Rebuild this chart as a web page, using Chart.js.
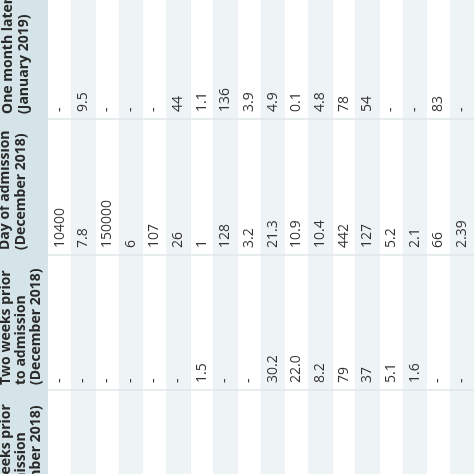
<!DOCTYPE html>
<html lang="en">
<head>
    <meta charset="UTF-8">
    <title>Lab values table</title>
    <style>
        html, body { margin: 0; padding: 0; background: #fff; }
    </style>
</head>
<body>
    <canvas id="myChart" width="474" height="474"></canvas>

    <script src="https://cdn.jsdelivr.net/npm/chart.js"></script>
    <script>
        // table rows (drawn as columns, the table is rotated)
        const rows = ['1', '2', '3', '4', '5', '6', '7', '8', '9', '10', '11', '12', '13', '14', '15', '16', '17', '18'];

        // one band per time point, top to bottom
        const oneMonthLater = ['-', '9.5', '-', '-', '-', '44', '1.1', '136', '3.9', '4.9', '0.1', '4.8', '78', '54', '-', '-', '83', '-'];
        const dayOfAdmission = ['10400', '7.8', '150000', '6', '107', '26', '1', '128', '3.2', '21.3', '10.9', '10.4', '442', '127', '5.2', '2.1', '66', '2.39'];
        const twoWeeksPrior = ['-', '-', '-', '-', '-', '-', '1.5', '-', '-', '30.2', '22.0', '8.2', '79', '37', '5.1', '1.6', '-', '-'];
        const fourWeeksPrior = ['', '', '', '', '', '', '', '', '', '', '', '', '', '', '', '', '', ''];

        const headers = [
            ['One month later', '(January 2019)'],
            ['Day of admission', '(December 2018)'],
            ['Two weeks prior', 'to admission', '(December 2018)'],
            ['Four weeks prior', 'to admission', '(December 2018)']
        ];
        const bands = [oneMonthLater, dayOfAdmission, twoWeeksPrior, fourWeeksPrior];

        // layout (pixel units on the y scale)
        const BAND_EDGES = [0, 119, 255, 390, 527];
        const HEADER_X = [[8, 24], [5, 21], [6, 21, 36], [6, 21, 36]];

        const tablePlugin = {
            id: 'tableText',
            beforeDatasetsDraw(chart) {
                const ctx = chart.ctx;
                // header column
                ctx.save();
                ctx.fillStyle = '#d4e4e8';
                ctx.fillRect(0, 0, chart.chartArea.left, chart.height);
                ctx.restore();
            },
            afterDatasetsDraw(chart) {
                const ctx = chart.ctx;
                const x = chart.scales.x;
                const y = chart.scales.y;
                ctx.save();
                // band separators
                ctx.strokeStyle = '#dfe6ea';
                ctx.lineWidth = 1.5;
                BAND_EDGES.slice(1, -1).forEach(e => {
                    const py = y.getPixelForValue(e);
                    ctx.beginPath();
                    ctx.moveTo(chart.chartArea.left, py);
                    ctx.lineTo(chart.width, py);
                    ctx.stroke();
                });
                // values
                ctx.fillStyle = '#333';
                ctx.font = '14px "Open Sans"';
                ctx.textAlign = 'left';
                ctx.textBaseline = 'middle';
                bands.forEach((vals, b) => {
                    const py = y.getPixelForValue(BAND_EDGES[b + 1] - 7);
                    vals.forEach((v, i) => {
                        if (!v) return;
                        ctx.save();
                        ctx.translate(x.getPixelForValue(i), py);
                        ctx.rotate(-Math.PI / 2);
                        ctx.fillText(v, 0, 0);
                        ctx.restore();
                    });
                });
                // headers
                ctx.fillStyle = '#2a2a2a';
                ctx.font = 'bold 14px "Open Sans"';
                headers.forEach((lines, b) => {
                    const py = y.getPixelForValue(BAND_EDGES[b + 1] - 5);
                    lines.forEach((t, k) => {
                        ctx.save();
                        ctx.translate(HEADER_X[b][k], py);
                        ctx.rotate(-Math.PI / 2);
                        ctx.fillText(t, 0, 0);
                        ctx.restore();
                    });
                });
                ctx.restore();
            }
        };

        const chart = new Chart(document.getElementById('myChart'), {
            type: 'bar',
            data: {
                labels: rows,
                datasets: [{
                    data: rows.map((r, i) => i % 2 === 1 ? [0, 474] : null),
                    backgroundColor: '#eef3f6',
                    barPercentage: 1,
                    categoryPercentage: 1,
                    borderWidth: 0
                }]
            },
            options: {
                responsive: false,
                animation: false,
                layout: { padding: { left: 48, top: 0, right: 0, bottom: 0 } },
                plugins: { legend: { display: false }, tooltip: { enabled: false } },
                scales: {
                    x: {
                        ticks: { display: false },
                        grid: { offset: true, color: '#e9eef1', drawTicks: false },
                        border: { display: false }
                    },
                    y: {
                        display: false,
                        min: 0,
                        max: 474,
                        reverse: true
                    }
                }
            },
            plugins: [tablePlugin]
        });
    </script>
</body>
</html>
